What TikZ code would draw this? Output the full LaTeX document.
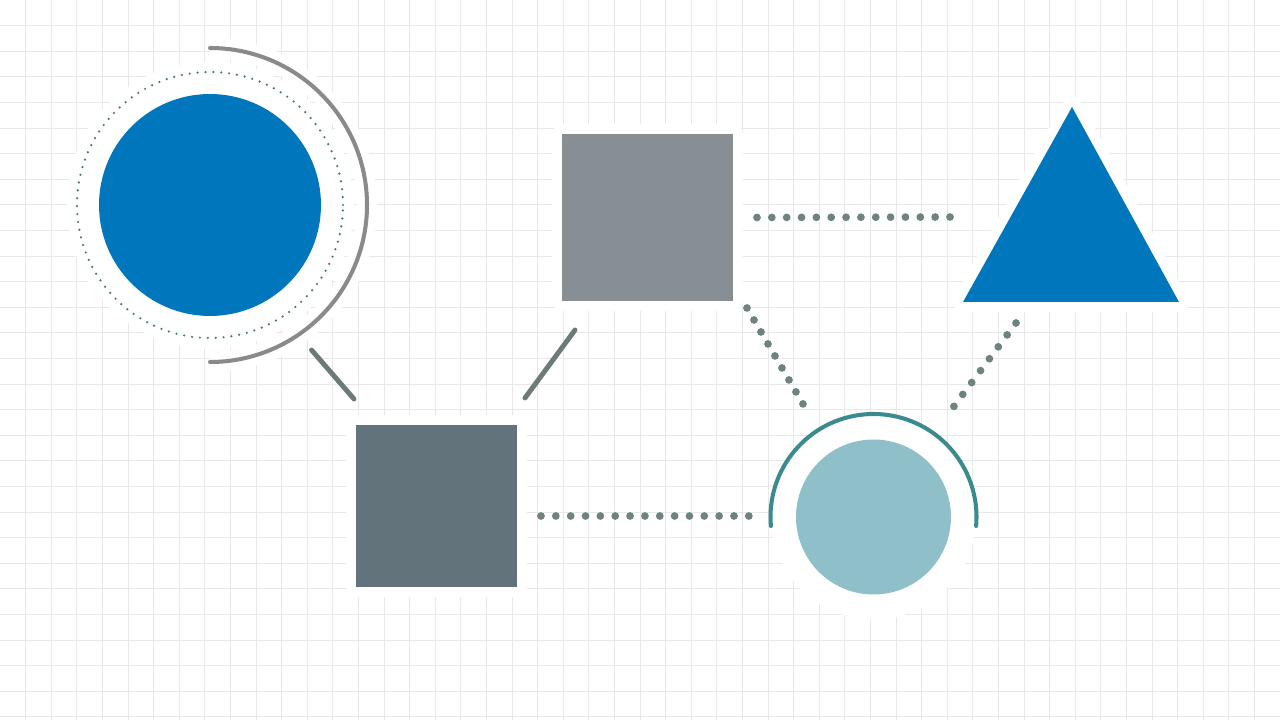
\documentclass[tikz,border=0pt]{standalone}
\usepackage{tikz}
\usepackage{xcolor}
\usetikzlibrary{shapes.geometric, positioning, calc}
\definecolor{myblue}{RGB}{0, 119, 188}
\definecolor{mygray}{RGB}{135, 142, 148}
\definecolor{myslate}{RGB}{98, 115, 124}
\definecolor{myaqua}{RGB}{143, 191, 200}
\definecolor{myteal}{RGB}{58, 138, 142}
\definecolor{myarc}{RGB}{138, 138, 138}
\definecolor{mylink}{RGB}{110, 122, 122}
\definecolor{mydots}{RGB}{110, 130, 130}
\definecolor{myring}{RGB}{70, 120, 120}
\definecolor{mygrid}{RGB}{232, 232, 232}

\begin{document}
\begin{tikzpicture}[
    x=0.02cm, y=0.02cm,
    gridline/.style={draw=mygrid, line width=0.5pt},
    halo/.style={preaction={draw=white, line join=round, line width=#1}},
    halo/.default=0.4cm,
    disc/.style={circle, inner sep=0pt, outer sep=0pt},
    block/.style={rectangle, inner sep=0pt, outer sep=0pt, halo},
    link/.style={draw=mylink, line width=2.8pt, line cap=round},
    dotlink/.style={draw=mydots, line width=4.4pt, line cap=round, dash pattern=on 0pt off #1},
    dotlink/.default=8.45pt,
    ringdots/.style={draw=myring, line width=1.4pt, line cap=round, dash pattern=on 0pt off 4.5pt},
    arcline/.style={line width=2.3pt, line cap=round}
]
\useasboundingbox (0,0) rectangle (1280,720);
\fill[white] (0,0) rectangle (1280,720);

% Grid
\foreach \i in {1,...,49}
    \draw[gridline] (\i*25.6,0) -- (\i*25.6,720);
\foreach \j in {1,...,28}
    \draw[gridline] (0,720-\j*25.6) -- (1280,720-\j*25.6);

% Shapes
\node[disc, halo=1.3cm, fill=myblue, minimum size=4.44cm] (bigc) at (210,515) {};
\node[block, fill=mygray, minimum width=3.42cm, minimum height=3.34cm] (topsq) at (647.5,502.5) {};
\node[block, fill=myslate, minimum width=3.22cm, minimum height=3.24cm] (darksq) at (436.5,214) {};
\node[disc, halo=1cm, fill=myaqua, minimum size=3.1cm] (smallc) at (873.5,203) {};
\fill[myblue, halo] (963,418) -- (1179,418) -- (1072,613) -- cycle;
\coordinate (tribase) at (1071,418);

% Rings and arcs
\draw[ringdots] (bigc.center) circle (133);
\draw[arcline, draw=myarc, halo] ($(bigc.center)+(90:157)$) arc (90:-90:157);
\draw[arcline, draw=myteal] ($(smallc.center)+(185:103)$) arc (185:-5:103);

% Links
\draw[link] ($(bigc.center)+(-55:177)$) -- ($(darksq.north west)+(-2,26)$);
\draw[link] ($(topsq.south west)+(13,-29)$) -- ($(darksq.north east)+(8,27)$);
\draw[dotlink] ($(topsq.east)+(24,0)$) -- ($(tribase)+(-119,85)$);
\draw[dotlink=7.9pt] ($(topsq.south east)+(14,-7)$) -- ($(smallc.center)+(122:130)$);
\draw[dotlink] ($(tribase)+(-55,-21)$) -- ($(smallc.center)+(54:134)$);
\draw[dotlink] ($(darksq.east)+(24,-10)$) -- ($(smallc.center)+(-123.5,1)$);

\end{tikzpicture}
\end{document}
